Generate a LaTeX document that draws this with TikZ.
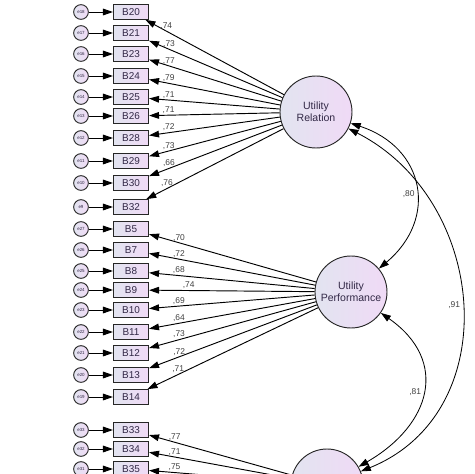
\documentclass[tikz,border=0pt]{standalone}
\usepackage{fontspec}
\setmainfont{Liberation Sans}
\usepackage{xcolor}
\definecolor{boxleft}{RGB}{226, 228, 240}
\definecolor{boxright}{RGB}{240, 218, 246}
\definecolor{txtdark}{RGB}{50, 40, 70}
\usepackage{tikz}
\usetikzlibrary{arrows.meta}

\begin{document}
\begin{tikzpicture}[x=0.03cm, y=-0.03cm,
        obs/.style={rectangle, draw=black!85, line width=0.9pt, left color=boxleft, right color=boxright, minimum width=1.05cm, minimum height=0.44cm, inner sep=0pt, font=\fontsize{8.5}{9}\selectfont, text=txtdark},
        err/.style={circle, draw=black!85, line width=0.8pt, left color=boxleft, right color=boxright, minimum size=0.44cm, inner sep=0pt, font=\fontsize{3.8}{4}\selectfont, text=txtdark},
        latent/.style={circle, draw=black!85, line width=0.8pt, left color=boxleft, right color=boxright, minimum size=2.16cm, inner sep=0pt, align=center, font=\fontsize{9}{10.5}\selectfont, text=txtdark},
        load/.style={-{Triangle[length=3mm, width=2mm]}, line width=0.8pt},
        cov/.style={{Triangle[length=3mm, width=2mm]}-{Triangle[length=3mm, width=2mm]}, line width=0.7pt},
        coef/.style={above, font=\fontsize{7.2}{8}\selectfont, text=black!75, inner sep=1pt}]

        \useasboundingbox (0,0) rectangle (474,474);
        \clip (0,0) rectangle (474,474);

        % Latent variables
        \node [latent] (rel) at (316,112) {Utility\\Relation};
        \node [latent] (perf) at (351,292) {Utility\\Performance};
        \node [latent] (third) at (327,485) {Utility\\\phantom{Performance}};

        % Group 1: indicators of Utility Relation
        \node [obs] (b20) at (131,12) {B20};   \node [err] (e18) at (81,12) {e18};
        \node [obs] (b21) at (131,33) {B21};   \node [err] (e17) at (81,33) {e17};
        \node [obs] (b23) at (131,54) {B23};   \node [err] (e16) at (81,54) {e16};
        \node [obs] (b24) at (131,76) {B24};   \node [err] (e15) at (81,76) {e15};
        \node [obs] (b25) at (131,97) {B25};   \node [err] (e14) at (81,97) {e14};
        \node [obs] (b26) at (131,116) {B26};  \node [err] (e13) at (81,116) {e13};
        \node [obs] (b28) at (131,138) {B28};  \node [err] (e12) at (81,138) {e12};
        \node [obs] (b29) at (131,161) {B29};  \node [err] (e11) at (81,161) {e11};
        \node [obs] (b30) at (131,183) {B30};  \node [err] (e10) at (81,183) {e10};
        \node [obs] (b32) at (131,207) {B32};  \node [err] (e9) at (81,207) {e9};

        % Group 2: indicators of Utility Performance
        \node [obs] (b5) at (131,229) {B5};    \node [err] (e27) at (81,229) {e27};
        \node [obs] (b7) at (131,250) {B7};    \node [err] (e26) at (81,250) {e26};
        \node [obs] (b8) at (131,271) {B8};    \node [err] (e25) at (81,271) {e25};
        \node [obs] (b9) at (131,290) {B9};    \node [err] (e24) at (81,290) {e24};
        \node [obs] (b10) at (131,310) {B10};  \node [err] (e23) at (81,310) {e23};
        \node [obs] (b11) at (131,332) {B11};  \node [err] (e22) at (81,332) {e22};
        \node [obs] (b12) at (131,353) {B12};  \node [err] (e21) at (81,353) {e21};
        \node [obs] (b13) at (131,375) {B13};  \node [err] (e20) at (81,375) {e20};
        \node [obs] (b14) at (131,397) {B14};  \node [err] (e19) at (81,397) {e19};

        % Group 3: indicators of the third factor
        \node [obs] (b33) at (131,430) {B33};  \node [err] (e33) at (81,430) {e33};
        \node [obs] (b34) at (131,449) {B34};  \node [err] (e32) at (81,449) {e32};
        \node [obs] (b35) at (131,469) {B35};  \node [err] (e31) at (81,469) {e31};

        % Error terms
        \draw [load] (e18) -- (b20);  \draw [load] (e17) -- (b21);  \draw [load] (e16) -- (b23);
        \draw [load] (e15) -- (b24);  \draw [load] (e14) -- (b25);  \draw [load] (e13) -- (b26);
        \draw [load] (e12) -- (b28);  \draw [load] (e11) -- (b29);  \draw [load] (e10) -- (b30);
        \draw [load] (e9) -- (b32);
        \draw [load] (e27) -- (b5);   \draw [load] (e26) -- (b7);   \draw [load] (e25) -- (b8);
        \draw [load] (e24) -- (b9);   \draw [load] (e23) -- (b10);  \draw [load] (e22) -- (b11);
        \draw [load] (e21) -- (b12);  \draw [load] (e20) -- (b13);  \draw [load] (e19) -- (b14);
        \draw [load] (e33) -- (b33);  \draw [load] (e32) -- (b34);  \draw [load] (e31) -- (b35);

        % Loadings, Utility Relation
        \draw [load] (rel) -- node [coef, pos=0.85] {,74} (b20);
        \draw [load] (rel) -- node [coef, pos=0.85] {,73} (b21);
        \draw [load] (rel) -- node [coef, pos=0.85] {,77} (b23);
        \draw [load] (rel) -- node [coef, pos=0.85] {,79} (b24);
        \draw [load] (rel) -- node [coef, pos=0.85] {,71} (b25);
        \draw [load] (rel) -- node [coef, pos=0.85] {,71} (b26);
        \draw [load] (rel) -- node [coef, pos=0.85] {,72} (b28);
        \draw [load] (rel) -- node [coef, pos=0.85] {,73} (b29);
        \draw [load] (rel) -- node [coef, pos=0.85] {,66} (b30);
        \draw [load] (rel) -- node [coef, pos=0.85] {,76} (b32);

        % Loadings, Utility Performance
        \draw [load] (perf) -- node [coef, pos=0.82] {,70} (b5);
        \draw [load] (perf) -- node [coef, pos=0.82] {,72} (b7);
        \draw [load] (perf) -- node [coef, pos=0.82] {,68} (b8);
        \draw [load] (perf) -- node [coef, pos=0.76] {,74} (b9);
        \draw [load] (perf) -- node [coef, pos=0.82] {,69} (b10);
        \draw [load] (perf) -- node [coef, pos=0.82] {,64} (b11);
        \draw [load] (perf) -- node [coef, pos=0.82] {,73} (b12);
        \draw [load] (perf) -- node [coef, pos=0.82] {,72} (b13);
        \draw [load] (perf) -- node [coef, pos=0.82] {,71} (b14);

        % Loadings, third factor
        \draw [load] (third) -- node [coef, pos=0.82] {,77} (b33);
        \draw [load] (third) -- node [coef, pos=0.82] {,71} (b34);
        \draw [load] (third) -- node [coef, pos=0.82] {,75} (b35);

        % Covariances
        \draw [cov] (rel) to [out=-18, in=40, looseness=1.35] node [coef, anchor=east, pos=0.55] {,80} (perf);
        \draw [cov] (rel) to [out=-27, in=22, looseness=1.17] node [coef, anchor=east] {,91} (third);
        \draw [cov] (perf) to [out=-35, in=30, looseness=1.38] node [coef, anchor=east] {,81} (third);
    \end{tikzpicture}
\end{document}
